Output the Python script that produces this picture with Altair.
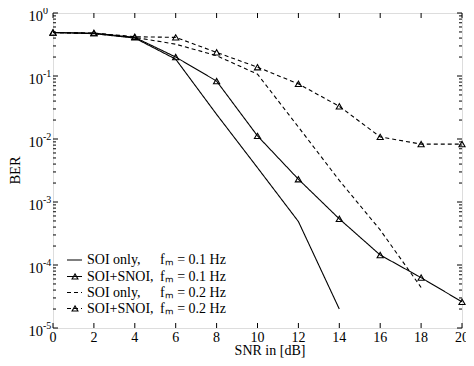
import altair as alt
import pandas as pd

# ---------------- data ----------------
snr = [0, 2, 4, 6, 8, 10, 12, 14, 16, 18, 20]
soi_01 = [0.49, 0.47, 0.40, 0.185, 0.0246, 0.0035, 0.00049, 0.00002]          # 0..14 dB
soi_snoi_01 = [0.49, 0.48, 0.41, 0.20, 0.083, 0.0112, 0.0023, 0.00054,
               0.000144, 0.000063, 0.000026]
soi_02 = [0.49, 0.47, 0.41, 0.32, 0.21, 0.107, 0.0155, 0.0022, 0.00036, 0.000044]  # 0..18 dB
soi_snoi_02 = [0.49, 0.48, 0.42, 0.41, 0.237, 0.138, 0.075, 0.033, 0.0108,
               0.0083, 0.0083]

series_names = ["s1", "s2", "s3", "s4"]
series_vals = [soi_01, soi_snoi_01, soi_02, soi_snoi_02]
series_dash = {"s1": [1, 0], "s2": [1, 0], "s3": [4, 3], "s4": [4, 3]}
series_marker = {"s1": False, "s2": True, "s3": False, "s4": True}

legend_left = ["SOI only,", "SOI+SNOI,", "SOI only,", "SOI+SNOI,"]
legend_right = ["f\u2098 = 0.1 Hz", "f\u2098 = 0.1 Hz", "f\u2098 = 0.2 Hz", "f\u2098 = 0.2 Hz"]

x_ticks = [0, 2, 4, 6, 8, 10, 12, 14, 16, 18, 20]
x_labels = [str(v) for v in x_ticks]
y_major = [1, 1e-1, 1e-2, 1e-3, 1e-4, 1e-5]
y_major_exp = ["0", "-1", "-2", "-3", "-4", "-5"]
y_minor = [m * 10.0 ** e for e in range(-5, 0) for m in range(2, 10)]
x_title = "SNR in [dB]"
y_title = "BER"

# ---------------- tables ----------------
rows = []
for name, vals in zip(series_names, series_vals):
    for x, v in zip(snr, vals):
        rows.append({"snr": x, "ber": v, "s": name})
df = pd.DataFrame(rows)

W, H = 409, 315
FONT = "Liberation Serif"
xs = alt.Scale(domain=[0, 20], nice=False, zero=False)
ys = alt.Scale(type="log", domain=[1e-5, 1], nice=False)


def X(field):
    return alt.X(field, scale=xs, axis=None)


def Y(field):
    return alt.Y(field, scale=ys, axis=None)


layers = []
for name in series_names:
    d = df[df.s == name]
    layers.append(alt.Chart(d).mark_line(color="black", strokeWidth=1.1,
                                         strokeDash=series_dash[name]).encode(
        x=X("snr:Q"), y=Y("ber:Q")))
    if series_marker[name]:
        layers.append(alt.Chart(d).mark_point(shape="triangle-up", size=38, filled=False,
                                              color="black", strokeWidth=1.1, opacity=1).encode(
            x=X("snr:Q"), y=Y("ber:Q")))

# inward ticks and labels
xt = pd.DataFrame({"x": x_ticks, "t": x_labels})
ymaj = pd.DataFrame({"y": y_major, "e": y_major_exp})
ymin = pd.DataFrame({"y": y_minor})
titles = pd.DataFrame({"xt": [x_title], "yt": [y_title]})
tk = dict(color="black", strokeWidth=1)
txt = dict(font=FONT, color="black")
layers += [
    alt.Chart(xt).mark_rule(**tk).encode(x=X("x:Q"), y=alt.value(H), y2=alt.value(H - 5)),
    alt.Chart(xt).mark_rule(**tk).encode(x=X("x:Q"), y=alt.value(0), y2=alt.value(5)),
    alt.Chart(ymaj).mark_rule(**tk).encode(y=Y("y:Q"), x=alt.value(0), x2=alt.value(5)),
    alt.Chart(ymaj).mark_rule(**tk).encode(y=Y("y:Q"), x=alt.value(W), x2=alt.value(W - 5)),
    alt.Chart(ymin).mark_rule(**tk).encode(y=Y("y:Q"), x=alt.value(0), x2=alt.value(3)),
    alt.Chart(ymin).mark_rule(**tk).encode(y=Y("y:Q"), x=alt.value(W), x2=alt.value(W - 3)),
    # x tick labels
    alt.Chart(xt).mark_text(fontSize=14, align="center", baseline="middle", **txt).encode(
        x=X("x:Q"), y=alt.value(H + 10), text="t:N"),
    # y tick labels 10^e
    alt.Chart(ymaj).mark_text(fontSize=14.5, align="right", baseline="middle", dy=4, **txt).encode(
        y=Y("y:Q"), x=alt.value(-10), text=alt.value("10")),
    alt.Chart(ymaj).mark_text(fontSize=10, align="left", baseline="middle", dy=-2, **txt).encode(
        y=Y("y:Q"), x=alt.value(-10), text="e:N"),
    # axis titles
    alt.Chart(titles).mark_text(fontSize=14.5, angle=270, align="center", baseline="middle",
                                **txt).encode(
        x=alt.value(-37), y=alt.value(H / 2), text="yt:N"),
    alt.Chart(titles).mark_text(fontSize=14, align="center", baseline="middle", **txt).encode(
        x=alt.value(217), y=alt.value(H + 23), text="xt:N"),
]

# legend
leg = pd.DataFrame({"i": [0, 1, 2, 3], "l": legend_left, "r": legend_right,
                    "s": series_names})
row_y = [247, 263.5, 279.5, 295.5]
for i, name in enumerate(series_names):
    one = leg[leg.i == i]
    yv = row_y[i]
    layers.append(alt.Chart(one).mark_rule(color="black", strokeWidth=1.1,
                                           strokeDash=series_dash[name]).encode(
        x=alt.value(14), x2=alt.value(29), y=alt.value(yv)))
    if series_marker[name]:
        layers.append(alt.Chart(one).mark_point(shape="triangle-up", size=34, filled=False,
                                                color="black", strokeWidth=1.1, opacity=1).encode(
            x=alt.value(22), y=alt.value(yv)))
    layers.append(alt.Chart(one).mark_text(fontSize=14, align="left", baseline="middle",
                                           **txt).encode(
        x=alt.value(34), y=alt.value(yv), text="l:N"))
    layers.append(alt.Chart(one).mark_text(fontSize=14, align="left", baseline="middle",
                                           **txt).encode(
        x=alt.value(107), y=alt.value(yv), text="r:N"))

chart = alt.layer(*layers).properties(
    width=W, height=H,
    autosize=alt.AutoSizeParams(type="none"),
    padding={"left": 45, "top": 5, "right": 4, "bottom": 30},
).configure_view(stroke="black", strokeWidth=1.2).configure(background="white")

chart.save("out.html", embed_options={"renderer": "svg", "actions": False})
